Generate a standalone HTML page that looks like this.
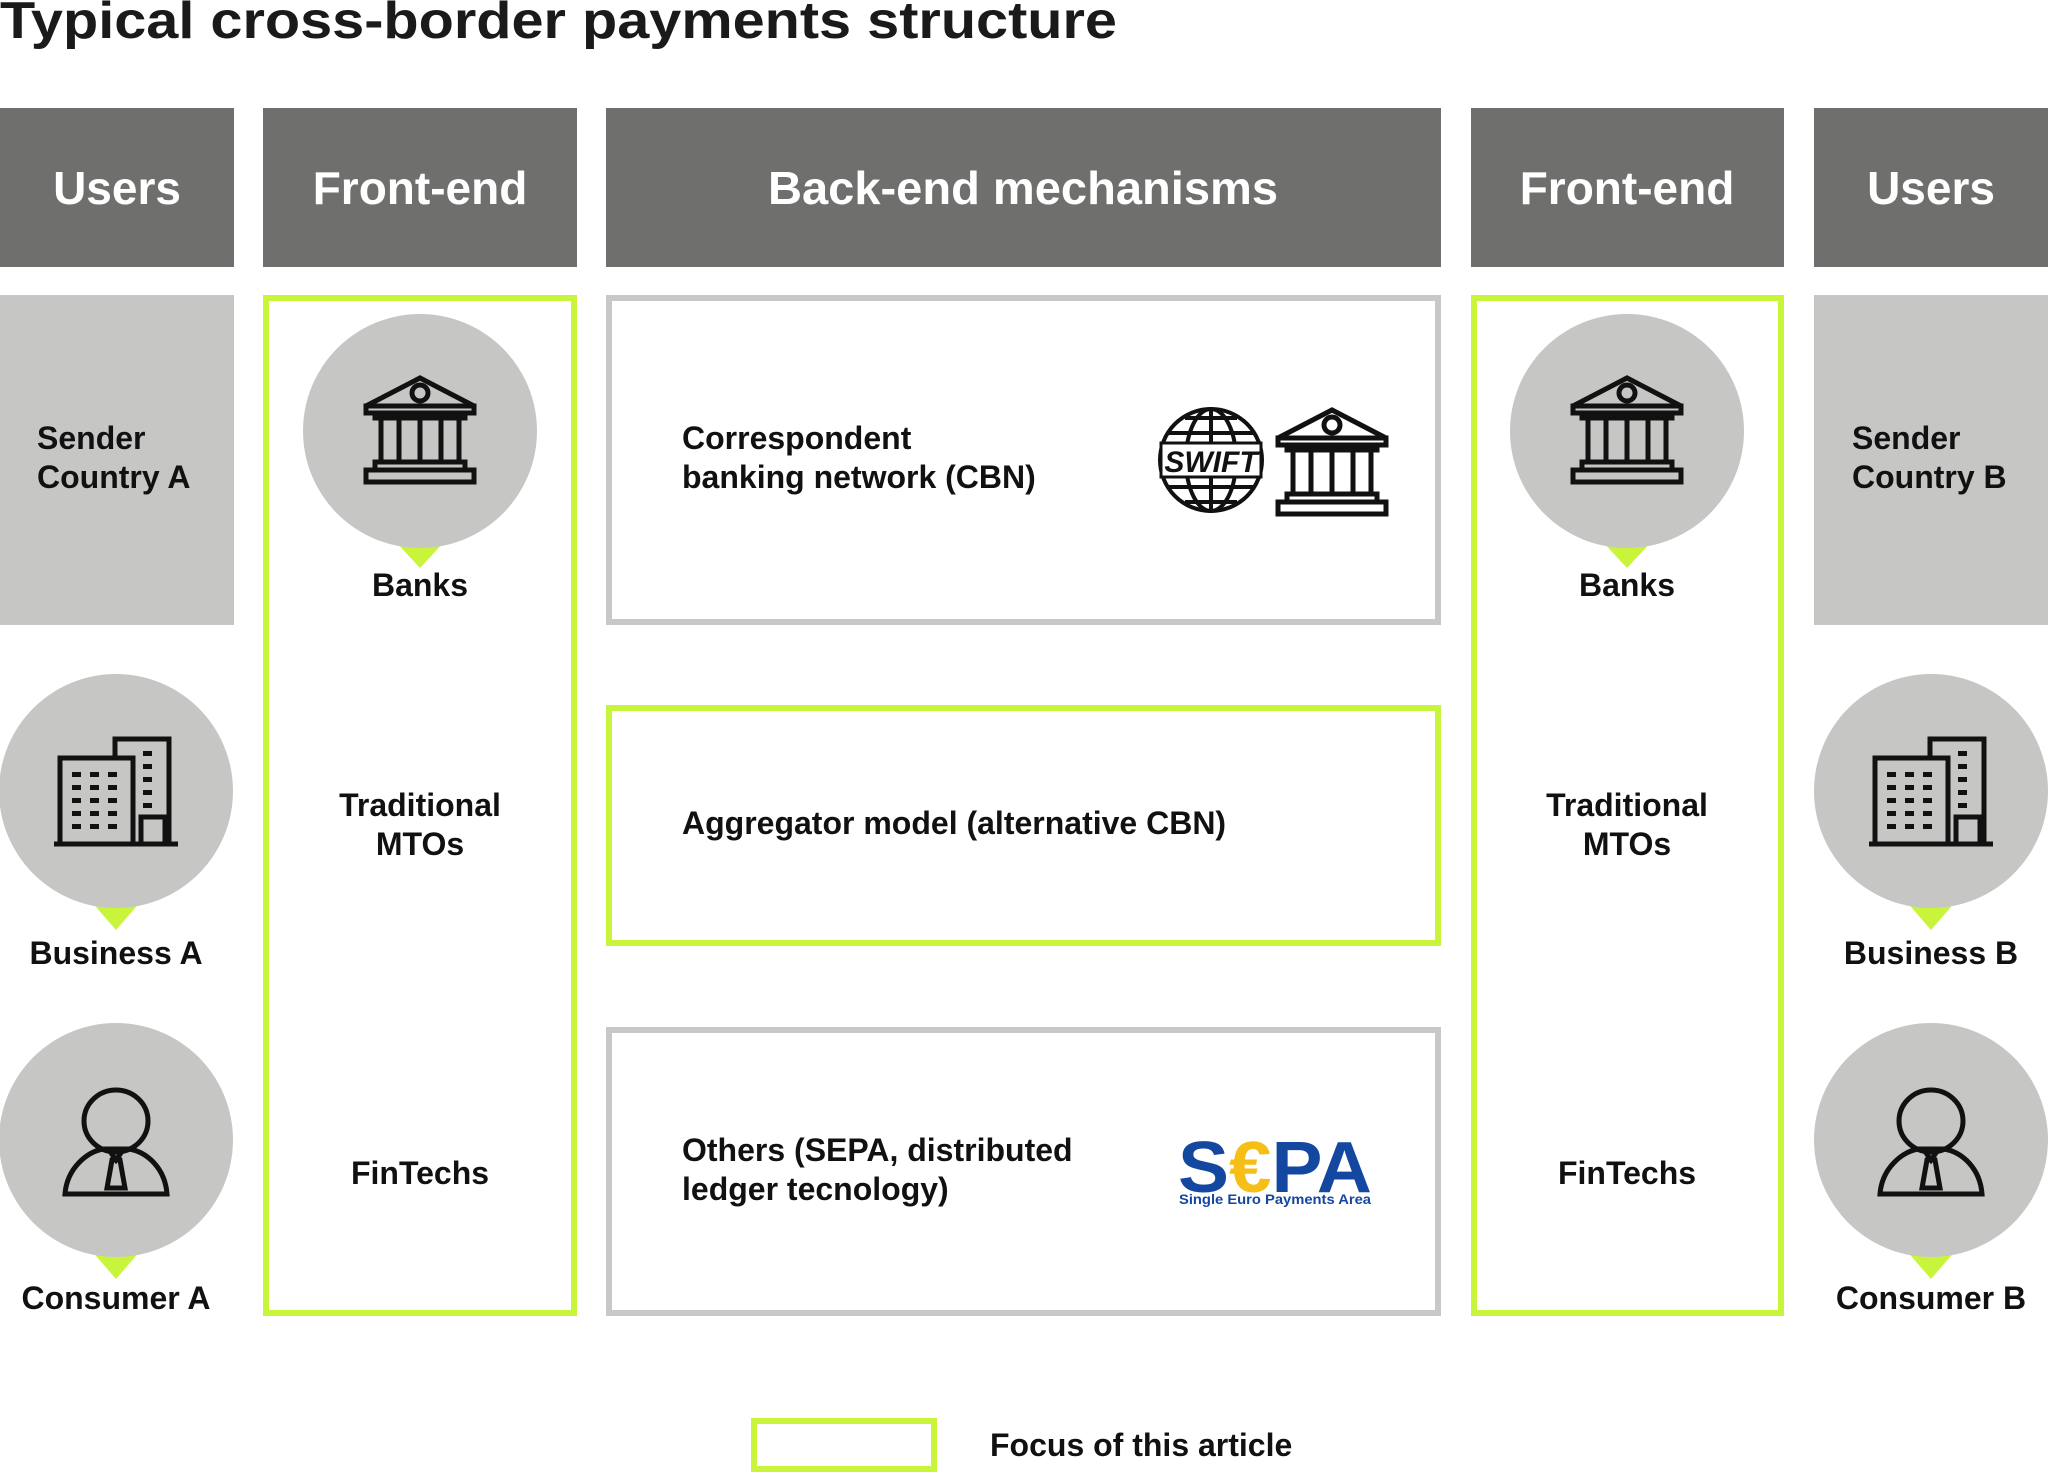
<!DOCTYPE html>
<html><head><meta charset="utf-8"><style>
html,body{margin:0;padding:0;background:#fff;}
svg{display:block}
text{font-family:"Liberation Sans",sans-serif;}
</style></head><body>
<svg width="2048" height="1473" viewBox="0 0 2048 1473" xmlns="http://www.w3.org/2000/svg">
<defs>
<g id="bank" fill="none" stroke="#111" stroke-width="5" stroke-linejoin="miter">
  <path d="M3 30 L57 2 L111 30 Z"/>
  <rect x="3" y="30" width="108" height="7"/>
  <circle cx="57" cy="17" r="8"/>
  <rect x="12" y="37" width="90" height="5"/>
  <line x1="18" y1="42" x2="18" y2="86"/><line x1="36" y1="42" x2="36" y2="86"/>
  <line x1="57" y1="42" x2="57" y2="86"/><line x1="78" y1="42" x2="78" y2="86"/>
  <line x1="96" y1="42" x2="96" y2="86"/>
  <rect x="12" y="86" width="90" height="8"/>
  <rect x="3" y="94" width="108" height="12"/>
</g>
<g id="bldg">
  <g fill="none" stroke="#111" stroke-width="5">
    <rect x="6" y="23" width="73" height="86"/>
    <path d="M61 23 V4 H115 V109"/>
    <rect x="87" y="82" width="24" height="27"/>
    <line x1="0" y1="109" x2="124" y2="109"/>
  </g>
  <g fill="#111">
    <rect x="18" y="37" width="9" height="5"/><rect x="36" y="37" width="9" height="5"/><rect x="54" y="37" width="9" height="5"/>
    <rect x="18" y="50" width="9" height="5"/><rect x="36" y="50" width="9" height="5"/><rect x="54" y="50" width="9" height="5"/>
    <rect x="18" y="63" width="9" height="5"/><rect x="36" y="63" width="9" height="5"/><rect x="54" y="63" width="9" height="5"/>
    <rect x="18" y="76" width="9" height="5"/><rect x="36" y="76" width="9" height="5"/><rect x="54" y="76" width="9" height="5"/>
    <rect x="18" y="89" width="9" height="5"/><rect x="36" y="89" width="9" height="5"/><rect x="54" y="89" width="9" height="5"/>
    <rect x="89" y="16" width="9" height="5"/><rect x="89" y="29" width="9" height="5"/><rect x="89" y="42" width="9" height="5"/><rect x="89" y="55" width="9" height="5"/><rect x="89" y="68" width="9" height="5"/>
  </g>
</g>
<g id="person" fill="none" stroke="#111" stroke-width="5">
  <ellipse cx="53" cy="33" rx="32" ry="31"/>
  <path d="M2 106 C4 80 24 64 40 61 L66 61 C84 64 102 80 104 106 Z"/>
  <path d="M46 62 L53 72 L60 62 M49 72 L44 100 L62 100 L57 72 Z"/>
</g>
</defs>

<text x="0" y="38" font-size="52" font-weight="bold" fill="#1a1a1a" textLength="1117" lengthAdjust="spacingAndGlyphs">Typical cross-border payments structure</text>

<g fill="#6f6f6d">
  <rect x="0" y="108" width="234" height="159"/>
  <rect x="263" y="108" width="314" height="159"/>
  <rect x="606" y="108" width="835" height="159"/>
  <rect x="1471" y="108" width="313" height="159"/>
  <rect x="1814" y="108" width="234" height="159"/>
</g>
<g fill="#fff" font-size="46" font-weight="bold" text-anchor="middle">
  <text x="117" y="204">Users</text>
  <text x="420" y="204">Front-end</text>
  <text x="1023" y="204" textLength="510" lengthAdjust="spacingAndGlyphs">Back-end mechanisms</text>
  <text x="1627" y="204">Front-end</text>
  <text x="1931" y="204">Users</text>
</g>

<rect x="0" y="295" width="234" height="330" fill="#c6c6c4"/>
<rect x="1814" y="295" width="234" height="330" fill="#c6c6c4"/>
<g font-size="32" font-weight="bold" fill="#111">
  <text x="37" y="449">Sender</text><text x="37" y="488">Country A</text>
  <text x="1852" y="449">Sender</text><text x="1852" y="488">Country B</text>
</g>

<g fill="none" stroke="#c8f53c" stroke-width="6">
  <rect x="266" y="298" width="308" height="1015"/>
  <rect x="1474" y="298" width="307" height="1015"/>
  <rect x="609" y="708" width="829" height="235"/>
</g>
<g fill="none" stroke="#c8c8c6" stroke-width="6">
  <rect x="609" y="298" width="829" height="324"/>
  <rect x="609" y="1030" width="829" height="283"/>
</g>

<g fill="#c8f53c">
  <path d="M394 540 L420 568 L446 540 Z"/>
  <path d="M1601 540 L1627 568 L1653 540 Z"/>
  <path d="M90 900 L116 930 L142 900 Z"/>
  <path d="M90 1249 L116 1279 L142 1249 Z"/>
  <path d="M1905 900 L1931 930 L1957 900 Z"/>
  <path d="M1905 1249 L1931 1279 L1957 1249 Z"/>
</g>
<g fill="#c6c6c4">
  <circle cx="420" cy="431" r="117"/>
  <circle cx="1627" cy="431" r="117"/>
  <circle cx="116" cy="791" r="117"/>
  <circle cx="116" cy="1140" r="117"/>
  <circle cx="1931" cy="791" r="117"/>
  <circle cx="1931" cy="1140" r="117"/>
</g>
<use href="#bank" x="363" y="376"/>
<use href="#bank" x="1570" y="376"/>
<use href="#bldg" x="54" y="735"/>
<use href="#bldg" x="1869" y="735"/>
<use href="#person" x="63" y="1088"/>
<use href="#person" x="1878" y="1088"/>

<g font-size="32" font-weight="bold" fill="#111" text-anchor="middle">
  <text x="420" y="596">Banks</text>
  <text x="1627" y="596">Banks</text>
  <text x="420" y="816">Traditional</text><text x="420" y="855">MTOs</text>
  <text x="1627" y="816">Traditional</text><text x="1627" y="855">MTOs</text>
  <text x="420" y="1184">FinTechs</text>
  <text x="1627" y="1184">FinTechs</text>
  <text x="116" y="964">Business A</text>
  <text x="1931" y="964">Business B</text>
  <text x="116" y="1309">Consumer A</text>
  <text x="1931" y="1309">Consumer B</text>
</g>

<g font-size="32" font-weight="bold" fill="#111">
  <text x="682" y="449">Correspondent</text>
  <text x="682" y="488">banking network (CBN)</text>
  <text x="682" y="834">Aggregator model (alternative CBN)</text>
  <text x="682" y="1161">Others (SEPA, distributed</text>
  <text x="682" y="1200">ledger tecnology)</text>
  <text x="990" y="1456">Focus of this article</text>
</g>

<g fill="none" stroke="#111" stroke-width="4">
  <circle cx="1211" cy="460" r="51"/>
  <ellipse cx="1211" cy="460" rx="25" ry="51"/>
  <line x1="1211" y1="409" x2="1211" y2="511"/>
  <line x1="1168" y1="433" x2="1254" y2="433"/>
  <line x1="1168" y1="487" x2="1254" y2="487"/>
  <line x1="1185" y1="418" x2="1237" y2="418"/>
  <line x1="1185" y1="502" x2="1237" y2="502"/>
</g>
<rect x="1161" y="443" width="100" height="34" fill="#fff" stroke="#111" stroke-width="3"/>
<text x="1211" y="472" font-size="30" font-weight="bold" font-style="italic" fill="#111" text-anchor="middle">SWIFT</text>
<use href="#bank" x="1275" y="408"/>

<text x="1178" y="1192" font-size="72" font-weight="bold" fill="#1447a0" textLength="194" lengthAdjust="spacingAndGlyphs">S<tspan fill="#f5bf17">€</tspan>PA</text>
<text x="1179" y="1204" font-size="14" font-weight="bold" fill="#1447a0" textLength="192" lengthAdjust="spacingAndGlyphs">Single Euro Payments Area</text>

<rect x="754" y="1421" width="180" height="48" fill="none" stroke="#c8f53c" stroke-width="6"/>
</svg>
</body></html>
